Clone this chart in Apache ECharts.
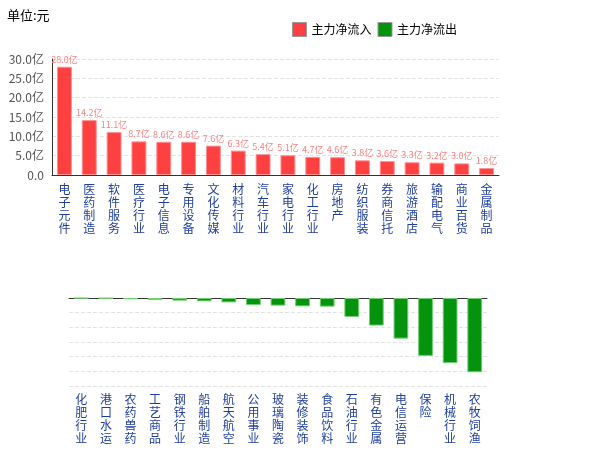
<!DOCTYPE html>
<html>
<head>
<meta charset="utf-8">
<script src="https://cdn.jsdelivr.net/npm/echarts@6/dist/echarts.min.js"></script>
<style>
	html, body { margin: 0; padding: 0; background: #fff; }
	#main { width: 589px; height: 468px; }
</style>
</head>
<body>
<div id="main"></div>
<script>
// 主力净流入 (亿)
var inNames = ['电子元件', '医药制造', '软件服务', '医疗行业', '电子信息', '专用设备', '文化传媒', '材料行业', '汽车行业',
	'家电行业', '化工行业', '房地产', '纺织服装', '券商信托', '旅游酒店', '输配电气', '商业百货', '金属制品'];
var inValues = [28.0, 14.2, 11.1, 8.7, 8.6, 8.6, 7.6, 6.3, 5.4, 5.1, 4.7, 4.6, 3.8, 3.6, 3.3, 3.2, 3.0, 1.8];

// 主力净流出 (亿)
var outNames = ['化肥行业', '港口水运', '农药兽药', '工艺商品', '钢铁行业', '船舶制造', '航天航空', '公用事业', '玻璃陶瓷',
	'装修装饰', '食品饮料', '石油行业', '有色金属', '电信运营', '保险', '机械行业', '农牧饲渔'];
var outValues = [-0.02, -0.03, -0.09, -0.14, -0.18, -0.23, -0.30, -0.48, -0.52,
	-0.57, -0.59, -1.29, -1.88, -2.77, -3.95, -4.44, -5.06];

var yTicks = [0, 5, 10, 15, 20, 25, 30];

var font = '"Noto Sans CJK SC", "Microsoft YaHei", sans-serif';
var red = '#ff4040';
var green = '#05920d';

var myChart = echarts.init(document.getElementById('main'));

function vertical(v) {
	return v.split('').join('\n');
}

var catLabel = {
	interval: 0,
	color: '#1f3f9f',
	fontSize: 12,
	lineHeight: 13,
	fontFamily: font,
	verticalAlign: 'top',
	formatter: vertical
};

var option = {
	animation: false,
	textStyle: { fontFamily: font },
	title: {
		text: '单位:元',
		left: 2,
		top: 4,
		textStyle: { fontSize: 13, fontWeight: 'normal', color: '#000', fontFamily: font }
	},
	legend: {
		top: 17,
		left: 287,
		icon: 'rect',
		itemWidth: 14,
		itemHeight: 14,
		itemGap: 6,
		textStyle: { fontSize: 12, color: '#000', fontFamily: font },
		data: [
			{ name: '主力净流入', itemStyle: { color: red, borderColor: '#999', borderWidth: 1 } },
			{ name: '主力净流出', itemStyle: { color: green, borderColor: '#999', borderWidth: 1 } }
		]
	},
	grid: [
		{ left: 52, top: 59, width: 447, height: 116 },
		{ left: 69, top: 298, width: 418, height: 88 }
	],
	xAxis: [
		{
			gridIndex: 0,
			type: 'category',
			data: inNames,
			axisLine: { lineStyle: { color: '#333' } },
			axisTick: { show: false },
			axisLabel: Object.assign({ margin: 8 }, catLabel)
		},
		{
			gridIndex: 1,
			type: 'category',
			data: outNames,
			position: 'bottom',
			axisLine: { show: false, onZero: false },
			axisTick: { show: false },
			axisLabel: Object.assign({ margin: 7 }, catLabel)
		},
		{
			gridIndex: 1,
			type: 'category',
			data: outNames,
			position: 'top',
			axisLine: { show: true, onZero: false, lineStyle: { color: '#333' } },
			axisTick: { show: false },
			axisLabel: { show: false }
		}
	],
	yAxis: [
		{
			gridIndex: 0,
			type: 'value',
			min: yTicks[0],
			max: yTicks[yTicks.length - 1],
			interval: 5,
			axisLine: { show: true, lineStyle: { color: '#333' } },
			axisTick: { show: false },
			axisLabel: {
				color: '#555',
				fontSize: 12,
				margin: 8,
				formatter: function(v) {
					if (v === 0) return '0.0';
					return v.toFixed(1) + '亿';
				}
			},
			splitLine: { lineStyle: { color: '#e3e3e3', type: 'dashed' } }
		},
		{
			gridIndex: 1,
			type: 'value',
			min: -6,
			max: 0,
			interval: 1,
			axisLine: { show: false },
			axisTick: { show: false },
			axisLabel: { show: false },
			splitLine: { lineStyle: { color: '#e3e3e3', type: 'dashed' } }
		}
	],
	series: [
		{
			name: '主力净流入',
			type: 'bar',
			xAxisIndex: 0,
			yAxisIndex: 0,
			barWidth: '60%',
			data: inValues,
			itemStyle: { color: red, borderColor: '#ff9090', borderWidth: 1 },
			label: {
				show: true,
				position: 'top',
				distance: 3,
				fontSize: 9,
				color: '#ff7f7f',
				formatter: function(p) {
					return p.value.toFixed(1) + '亿';
				}
			}
		},
		{
			name: '主力净流出',
			type: 'bar',
			xAxisIndex: 1,
			yAxisIndex: 1,
			barWidth: '60%',
			data: outValues,
			itemStyle: { color: green, borderColor: '#6fd06f', borderWidth: 1 }
		}
	]
};

myChart.setOption(option);
</script>
</body>
</html>
